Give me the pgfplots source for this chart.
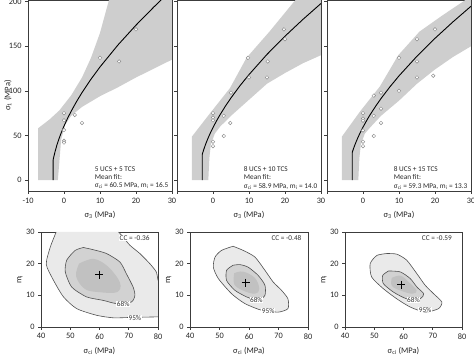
\documentclass[border=0pt]{standalone}
\usepackage{fontspec}
\setmainfont{Carlito}
\usepackage{pgfplots}
\pgfplotsset{compat=1.18}
\definecolor{bandgray}{RGB}{206,206,206}
\definecolor{cont}{RGB}{80,80,80}
\definecolor{c95}{RGB}{234,234,234}
\definecolor{c68}{RGB}{210,210,210}
\definecolor{ccore}{RGB}{193,193,193}
\definecolor{frame}{RGB}{60,60,60}
\tikzset{
  note/.style={anchor=north west, align=left, font=\fontsize{7.3}{8.2}\selectfont, text=black!85},
  pct/.style={font=\fontsize{7.3}{8}\selectfont, text=black!80, fill=white, inner sep=0.4pt},
}
\pgfplotsset{
  myaxis/.style={scale only axis, axis line style={line width=0.6pt, frame},
    tick align=outside, xtick pos=left, ytick pos=left, major tick length=3pt,
    tick style={frame, line width=0.6pt},
    ticklabel style={font=\fontsize{8.3}{9}\selectfont, text=black!85},
    label style={font=\fontsize{8.5}{9}\selectfont, text=black!85},
    /pgf/number format/assume math mode=true, clip=true},
  toppanel/.style={myaxis, width=144pt, height=191pt, xmin=-10, xmax=30, ymin=-12.3, ymax=201.9,
    xtick={-10,0,10,20,30}, ytick={0,50,100,150,200},
    xlabel={σ\textsubscript{3} (MPa)},
    xlabel style={at={(axis description cs:0.5,-0.126)}, anchor=center},
    xticklabel style={yshift=-1pt}},
  botpanel/.style={myaxis, width=117pt, height=95pt, xmin=40, xmax=80, ymin=0, ymax=30,
    xtick={40,50,60,70,80}, ytick={0,10,20,30},
    xlabel={σ\textsubscript{ci} (MPa)}, ylabel={m\textsubscript{i}},
    xlabel style={at={(axis description cs:0.5,-0.25)}, anchor=center},
    ylabel style={at={(axis description cs:-0.18,0.5)}, anchor=center}},
  pts/.style={only marks, mark=*, mark size=1.8pt, mark options={fill=white, draw=black!45, line width=0.45pt}},
  meanline/.style={black, line width=0.9pt},
}
\begin{document}
\begin{tikzpicture}[x=1pt,y=1pt]
\useasboundingbox (0,0) rectangle (474,355);
% ---------------- top panel 1
\begin{axis}[toppanel, at={(28pt,164pt)}, anchor=south west, ylabel={σ\textsubscript{1} (MPa)},
  ylabel style={at={(axis description cs:-0.14,0.5)}, anchor=center}]
\addplot[fill=bandgray, draw=none] coordinates {(-7.2,0) (-7.2,58) (-4,68) (-1.3,78) (2,95) (5,115) (7.5,137) (10,165) (12.5,202) (30,202) (30,135) (25,125) (20,115) (15,104) (10,94) (5,82) (2,72) (0.3,62) (-0.8,45) (-1.2,25) (-1.7,0)} -- cycle;
\addplot[meanline] coordinates {(-3,0) (-3,22.8) (-2.9,24.8) (-2.5,31.6) (-2,38.8) (-1.5,45.0) (-1,50.6) (-0.5,55.7) (0,60.5) (1,69.3) (2,77.2) (3.5,88.1) (5,98.0) (7.5,113.1) (10,126.8) (15,151.5) (20,173.7) (25,194.2) (27,202)};
\addplot[pts] coordinates {(0,75) (0,67) (0,56) (0,44) (0,42) (3,73) (5,64) (10,137) (15.3,133) (20,169)};
\node[note] at (axis cs:7.6,19) {5 UCS + 5 TCS\\Mean fit:\\σ\textsubscript{ci} = 60.5 MPa, m\textsubscript{i} = 16.5};
\end{axis}
% ---------------- top panel 2
\begin{axis}[toppanel, at={(177pt,164pt)}, anchor=south west, yticklabels={}, xticklabels={,0,10,20,30}]
\addplot[fill=bandgray, draw=none] coordinates {(-5.9,0) (-5.9,48.5) (-0.8,75) (4.7,103) (9.3,137) (15.7,166.5) (22.2,198.5) (23,202) (30,202) (30,140) (25,131) (20,120) (15,108) (10,90) (5,72) (2,60) (0.5,52) (-0.6,40) (-1,25) (-1.3,0)} -- cycle;
\addplot[meanline] coordinates {(-3,0) (-3,28.6) (-2.9,29.9) (-2.5,35.0) (-2,40.7) (-1.5,45.7) (-1,50.4) (-0.5,54.8) (0,58.9) (1,66.5) (2,73.5) (3.5,83.2) (5,92.1) (7.5,105.8) (10,118.2) (15,140.9) (20,161.3) (25,180.2) (30,198.0)};
\addplot[pts] coordinates {(0,75) (0,70) (0,67) (0,43) (0,38) (3,72) (5,98) (4.8,64) (3,49.4) (9.7,137) (10,115) (15.2,133) (15,115) (19.7,169) (20,158)};
\node[note] at (axis cs:7.6,19) {8 UCS + 10 TCS\\Mean fit:\\σ\textsubscript{ci} = 58.9 MPa, m\textsubscript{i} = 14.0};
\end{axis}
% ---------------- top panel 3
\begin{axis}[toppanel, at={(327pt,164pt)}, anchor=south west, yticklabels={}, xticklabels={,0,10,20,30}]
\addplot[fill=bandgray, draw=none] coordinates {(-5.9,0) (-5.9,48.5) (-0.8,77) (4.7,105) (9.8,140) (15.7,166.5) (22.2,185) (28.5,202) (30,202) (30,150) (25,138) (20,124) (15,108) (10,89) (5,72) (2,59) (0.5,52) (-0.6,40) (-1,25) (-1.3,0)} -- cycle;
\addplot[meanline] coordinates {(-3,0) (-3,30.9) (-2.9,32.1) (-2.5,36.8) (-2,42.0) (-1.5,46.8) (-1,51.2) (-0.5,55.4) (0,59.3) (1,66.6) (2,73.4) (3.5,82.7) (5,91.4) (7.5,104.6) (10,116.8) (15,138.9) (20,158.9) (25,177.4) (30,194.9)};
\addplot[pts] coordinates {(0,75) (0,69) (0,66.6) (0,55.6) (0,43) (0,38) (3,94.7) (3,72) (5,98) (5,80) (5,64) (3,49.4) (10,137) (10,100) (15,158) (15,133) (15,115) (20,169) (19.5,117)};
\node[note] at (axis cs:7.6,19) {8 UCS + 15 TCS\\Mean fit:\\σ\textsubscript{ci} = 59.3 MPa, m\textsubscript{i} = 13.3};
\end{axis}
% ---------------- bottom panel 1
\begin{axis}[botpanel, at={(41pt,28pt)}, anchor=south west]
\addplot[fill=c95, draw=none] coordinates {(45.2,30) (43.2,25.3) (41.8,19.8) (44.3,14.7) (47.7,9.5) (52.2,5.8) (59.0,3.7) (64.7,2.9) (70,3.0) (75,3.1) (80,3.2) (80,14.7) (79.4,17.4) (77.2,20) (73.8,23.2) (70.4,25.8) (68,28.5) (66.5,30)} -- cycle;
\addplot[fill=c68, draw=cont, line width=0.6pt, smooth, tension=0.4] coordinates {(54.5,25.1) (51.7,24.2) (48.8,21.1) (48.3,17.4) (50.5,12.6) (55.6,9.5) (61.3,8.4) (65.8,7.4) (70.9,7.9) (72.1,10) (71.5,12.6) (69.2,16.8) (67,20.5) (62.4,23.2) (57.9,24.4) (54.5,25.1)} -- cycle;
\addplot[fill=ccore, draw=none, smooth, tension=0.6] coordinates {(53,20) (52,16) (55,12) (60,11) (66,11) (67,14) (63,19) (58,21.5) (53,20)} -- cycle;
\addplot[draw=cont, line width=0.6pt, smooth, tension=0.4] coordinates {(45.2,30) (43.2,25.3) (41.8,19.8) (44.3,14.7) (47.7,9.5) (52.2,5.8) (59.0,3.7) (64.7,2.9) (70,3.0) (75,3.1) (80,3.2)};
\addplot[draw=cont, line width=0.6pt, smooth, tension=0.4] coordinates {(66.5,30) (68,28.5) (70.4,25.8) (73.8,23.2) (77.2,20) (79.4,17.4) (80,14.7)};
\addplot[only marks, mark=+, mark size=4pt, mark options={line width=0.8pt, black}] coordinates {(60,16.5)};
\node[pct] at (axis cs:68.1,7.2) {68\%};
\node[pct] at (axis cs:72.1,2.9) {95\%};
\node[pct] at (axis cs:72,28) {CC = -0.36};
\end{axis}
% ---------------- bottom panel 2
\begin{axis}[botpanel, at={(190pt,28pt)}, anchor=south west, width=118pt]
\addplot[fill=c95, draw=cont, line width=0.6pt, smooth, tension=0.4] coordinates {(54.6,25.5) (50.7,24.2) (48.5,22.1) (47.9,18.9) (49.6,15.3) (54.1,10.5) (58.6,7.4) (64.2,5.3) (69.9,4.7) (73.2,5.8) (73.2,8.9) (71,11.6) (68.2,14.2) (65.4,17.9) (62,22.1) (58,24.2) (54.6,25.5)} -- cycle;
\addplot[fill=c68, draw=cont, line width=0.6pt, smooth, tension=0.4] coordinates {(54.6,19.5) (52.4,17.9) (52.4,14.7) (55.2,11.6) (59.2,9.5) (63.1,8.4) (65.4,10) (65.4,13.2) (63.1,16.3) (59.7,18.9) (56.9,19.7) (54.6,19.5)} -- cycle;
\addplot[fill=ccore, draw=none, smooth, tension=0.6] coordinates {(55,17) (55,13.5) (58,11.5) (62,10.5) (63.5,12) (62,15.5) (58,17.5) (55,17)} -- cycle;
\addplot[only marks, mark=+, mark size=4pt, mark options={line width=0.8pt, black}] coordinates {(58.9,14.0)};
\node[pct] at (axis cs:62.5,8.6) {68\%};
\node[pct] at (axis cs:66.5,5.0) {95\%};
\node[pct] at (axis cs:72.7,28) {CC = -0.48};
\end{axis}
% ---------------- bottom panel 3
\begin{axis}[botpanel, at={(345pt,28pt)}, anchor=south west]
\addplot[fill=c95, draw=cont, line width=0.6pt, smooth, tension=0.4] coordinates {(54.3,23.2) (50.9,22.6) (48.6,20) (49.1,15.8) (53.1,12.1) (57.7,8.9) (62.3,6.3) (67.4,4.7) (72,5.8) (73.1,7.9) (70.3,10.5) (67.4,13.2) (64.6,16.8) (61.1,21.1) (57.7,23) (54.3,23.2)} -- cycle;
\addplot[fill=c68, draw=cont, line width=0.6pt, smooth, tension=0.4] coordinates {(54.9,17.7) (52.9,16.3) (53.1,13.7) (56.6,11) (61.1,8.9) (65.7,8.9) (66.9,10.5) (64.6,12.6) (62.3,15.3) (58.9,17.4) (54.9,17.7)} -- cycle;
\addplot[fill=ccore, draw=none, smooth, tension=0.6] coordinates {(56,15.5) (56,13) (59,11.5) (63,10.5) (64.5,11.5) (62,14) (59,16.2) (56,15.5)} -- cycle;
\addplot[only marks, mark=+, mark size=4pt, mark options={line width=0.8pt, black}] coordinates {(59.3,13.3)};
\node[pct] at (axis cs:63.4,8.6) {68\%};
\node[pct] at (axis cs:67.4,5.5) {95\%};
\node[pct] at (axis cs:71.4,28) {CC = -0.59};
\end{axis}
\end{tikzpicture}
\end{document}
